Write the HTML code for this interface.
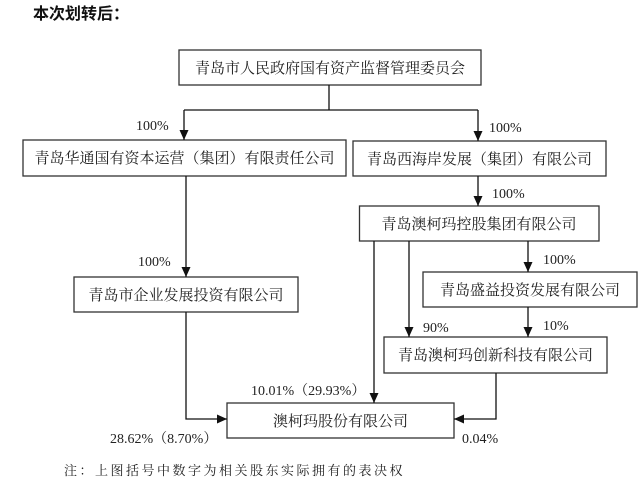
<!DOCTYPE html>
<html><head><meta charset="utf-8"><style>
html,body{margin:0;padding:0;background:#fff;}
svg{display:block;}
.t{font-family:"Liberation Serif","Noto Serif CJK SC",serif;font-size:15px;fill:#222;}
.p{font-family:"Liberation Serif","Noto Serif CJK SC",serif;font-size:14px;fill:#222;}
</style></head><body>
<svg width="641" height="477" viewBox="0 0 641 477" xmlns="http://www.w3.org/2000/svg">
<defs><marker id="a" markerWidth="12" markerHeight="12" refX="10" refY="5.5" orient="auto" markerUnits="userSpaceOnUse"><path d="M0,1 L10,5.5 L0,10 z" fill="#111"/></marker></defs>
<text x="33" y="19" style="font-family:'Liberation Sans','Noto Sans CJK SC',sans-serif;font-size:16px;font-weight:bold;fill:#111">本次划转后：</text>
<g fill="none" stroke="#333" stroke-width="1.3">
<rect x="179" y="50" width="302" height="35"/>
<rect x="23" y="140" width="323" height="36"/>
<rect x="353" y="141" width="253" height="35"/>
<rect x="359.5" y="206" width="239.5" height="35"/>
<rect x="74" y="277" width="224" height="35"/>
<rect x="423" y="272" width="214" height="35"/>
<rect x="384" y="337" width="223" height="36"/>
<rect x="227" y="403" width="227" height="35"/>
</g>
<g stroke="#111" stroke-width="1.3" fill="none">
<path d="M329,85 V110 M184,110 H478"/>
<path d="M184,110 V140" marker-end="url(#a)"/>
<path d="M478,110 V141" marker-end="url(#a)"/>
<path d="M186,176 V277" marker-end="url(#a)"/>
<path d="M478,176 V206" marker-end="url(#a)"/>
<path d="M528,241 V272" marker-end="url(#a)"/>
<path d="M528,307 V337" marker-end="url(#a)"/>
<path d="M409,241 V337" marker-end="url(#a)"/>
<path d="M374,241 V403" marker-end="url(#a)"/>
<path d="M186,312 V419 H227" marker-end="url(#a)"/>
<path d="M496,373 V419 H454" marker-end="url(#a)"/>
</g>
<g class="t" text-anchor="middle">
<text x="330" y="73">青岛市人民政府国有资产监督管理委员会</text>
<text x="184.5" y="163">青岛华通国有资本运营（集团）有限责任公司</text>
<text x="479.5" y="164">青岛西海岸发展（集团）有限公司</text>
<text x="479" y="229">青岛澳柯玛控股集团有限公司</text>
<text x="186" y="300">青岛市企业发展投资有限公司</text>
<text x="530" y="295">青岛盛益投资发展有限公司</text>
<text x="495.5" y="360">青岛澳柯玛创新科技有限公司</text>
<text x="340.5" y="426">澳柯玛股份有限公司</text>
</g>
<g class="p">
<text x="136" y="130">100%</text>
<text x="489" y="132">100%</text>
<text x="138" y="266">100%</text>
<text x="492" y="198">100%</text>
<text x="543" y="264">100%</text>
<text x="423" y="332">90%</text>
<text x="543" y="330">10%</text>
<text x="251" y="395">10.01%（29.93%）</text>
<text x="110" y="443">28.62%（8.70%）</text>
<text x="462" y="443">0.04%</text>
</g>
<text x="64" y="475" style="font-family:'Liberation Serif','Noto Serif CJK SC',serif;font-size:13px;fill:#222;letter-spacing:2.5px">注：上图括号中数字为相关股东实际拥有的表决权</text>
</svg>
</body></html>
